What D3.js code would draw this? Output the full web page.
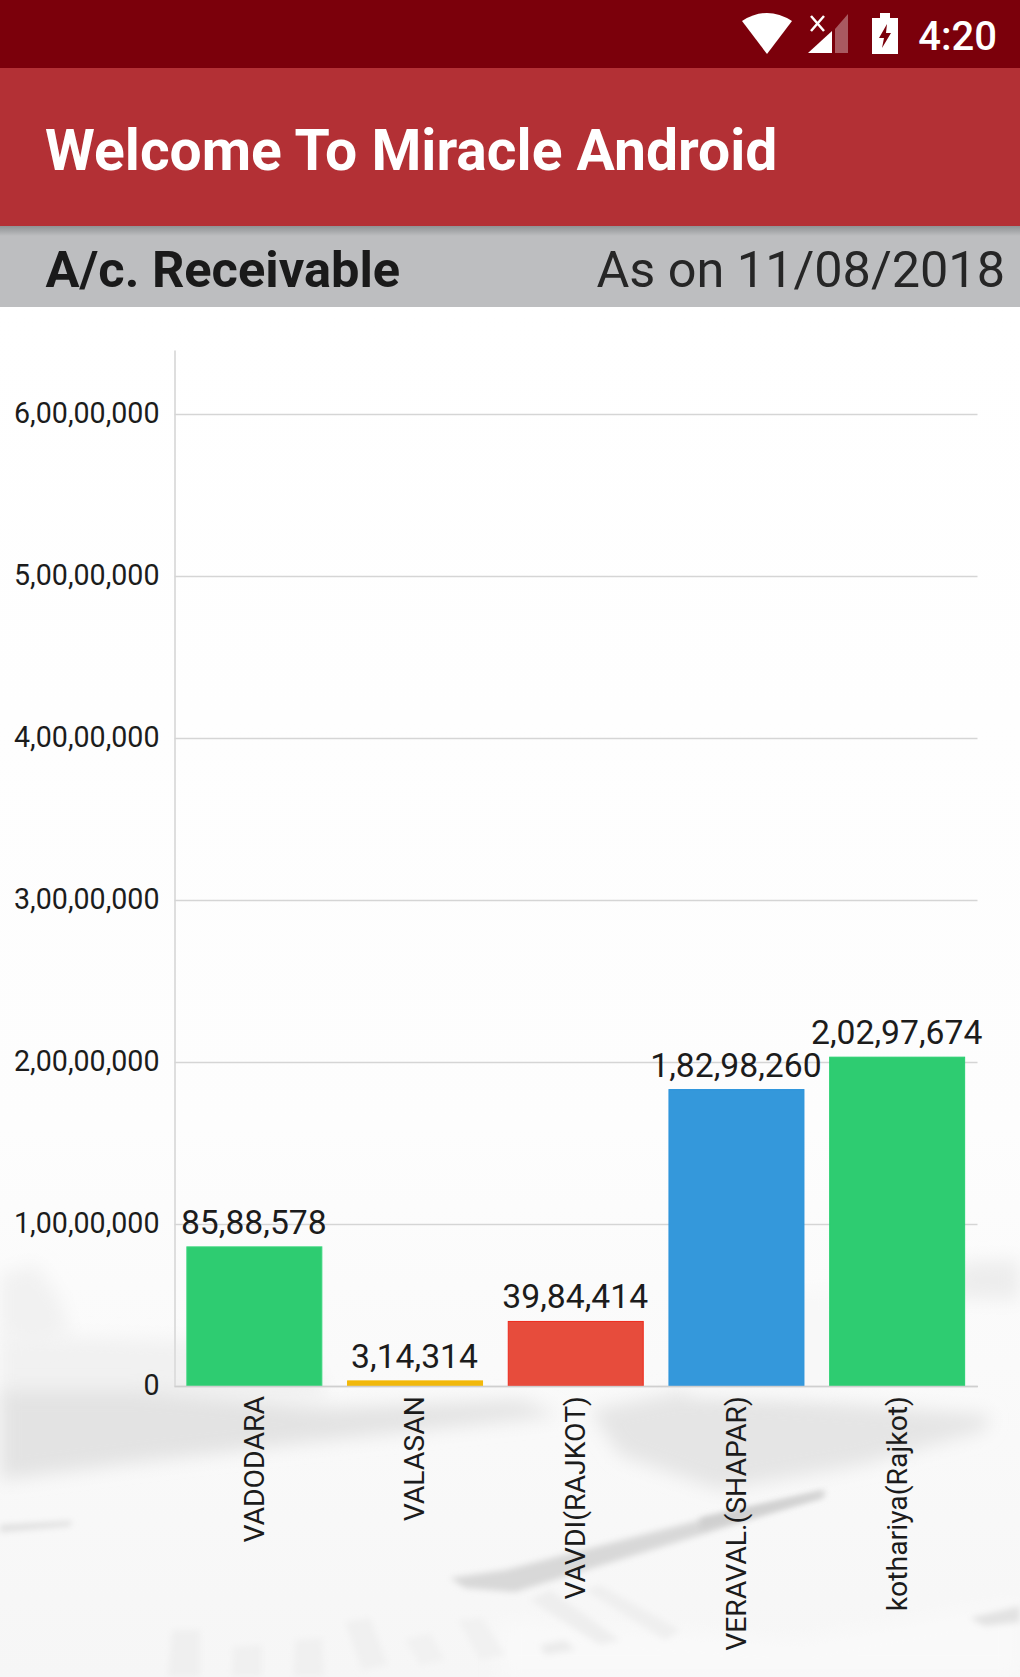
<!DOCTYPE html>
<html>
<head>
<meta charset="utf-8">
<title>A/c. Receivable</title>
<script src="https://cdn.jsdelivr.net/npm/d3@7"></script>
<style>
  html, body { margin: 0; padding: 0; background: #fff; }
  svg { display: block; font-family: Roboto, sans-serif; }
</style>
</head>
<body>
<svg id="chart" width="1020" height="1677"></svg>
<script>
// chart values
const categories = ["VADODARA", "VALASAN", "VAVDI(RAJKOT)", "VERAVAL.(SHAPAR)", "kothariya(Rajkot)"];
const receivable = [8588578, 314314, 3984414, 18298260, 20297674];
const barColors = ["#2ecc71", "#f1b80c", "#e74c3c", "#3498db", "#2ecc71"];
const barEdges = ["#3ad67d", "#f4b800", "#ee2a1c", "#2a93dc", "#28d070"];
const yTicks = [0, 10000000, 20000000, 30000000, 40000000, 50000000, 60000000];
const yMax = 63950000;

const appTitle = "Welcome To Miracle Android";
const reportName = "A/c. Receivable";
const reportDate = "As on 11/08/2018";
const clock = "4:20";

const svg = d3.select("#chart");

// indian digit grouping, 1,00,00,000
const indian = d3.formatLocale({
    decimal: ".",
    thousands: ",",
    grouping: [3, 2, 2, 2, 2],
    currency: ["", ""]
}).format(",d");

const defs = svg.append("defs");
defs.append("filter").attr("id", "soft").attr("x", "-20%").attr("y", "-50%").attr("width", "140%").attr("height", "200%")
    .append("feGaussianBlur").attr("stdDeviation", 9);
defs.append("filter").attr("id", "softer").attr("x", "-20%").attr("y", "-50%").attr("width", "140%").attr("height", "200%")
    .append("feGaussianBlur").attr("stdDeviation", 3);
const pageGrad = defs.append("linearGradient").attr("id", "page").attr("x1", 0).attr("x2", 0).attr("y1", 0).attr("y2", 1);
pageGrad.append("stop").attr("offset", "0%").attr("stop-color", "#ffffff");
pageGrad.append("stop").attr("offset", "60%").attr("stop-color", "#fdfdfd");
pageGrad.append("stop").attr("offset", "100%").attr("stop-color", "#f6f6f6");
const shadowGrad = defs.append("linearGradient").attr("id", "shade").attr("x1", 0).attr("x2", 0).attr("y1", 0).attr("y2", 1);
shadowGrad.append("stop").attr("offset", "0%").attr("stop-color", "#8f9294");
shadowGrad.append("stop").attr("offset", "100%").attr("stop-color", "#bdbec0");

// page background with the faded desk photo
svg.append("rect").attr("y", 306).attr("width", 1020).attr("height", 1371).attr("fill", "url(#page)");

const photo = svg.append("g");
const blurred = [
    ["0,1335 300,1345 330,1400 0,1400", "#f1f1f1"],
    ["0,1275 35,1265 60,1300 70,1335 30,1345 0,1335", "#f1f1f1"],
    ["0,1390 140,1390 330,1408 520,1400 560,1415 330,1440 140,1462 0,1480", "#e3e3e3"],
    ["590,1410 680,1392 800,1400 990,1415 985,1430 860,1465 720,1490 620,1455", "#e5e5e5"],
    ["960,1262 1020,1260 1020,1300 950,1298", "#ededed"],
    ["690,1300 840,1290 840,1390 690,1395", "#f8f8f8"],
    ["500,1620 800,1640 1020,1600 1020,1677 500,1677", "#f9f9f9"]
];
const crisp = [
    ["0,1525 72,1521 70,1526 0,1532", "#dedede"],
    ["450,1578 505,1570 700,1520 825,1490 825,1496 700,1535 515,1592 465,1588", "#d8d8d8"],
    ["700,1518 822,1492 822,1497 700,1530", "#cfcfcf"],
    ["970,1618 1020,1606 1020,1622 985,1626", "#e2e2e2"],
    ["172,1630 200,1630 200,1677 168,1677", "#efefef"],
    ["233,1647 262,1645 262,1677 232,1677", "#f0f0f0"],
    ["295,1640 322,1638 324,1677 293,1677", "#f0f0f0"],
    ["345,1622 370,1618 388,1665 362,1670", "#f0f0f0"],
    ["405,1640 430,1633 445,1660 420,1665", "#f1f1f1"],
    ["458,1620 482,1618 505,1655 480,1660", "#f1f1f1"],
    ["530,1600 550,1590 620,1640 600,1645", "#eeeeee"],
    ["585,1590 600,1585 680,1630 665,1640", "#efefef"],
    ["540,1645 565,1640 575,1650 545,1655", "#ebebeb"]
];
photo.selectAll(".soft").data(blurred).join("polygon").attr("class", "soft")
    .attr("points", d => d[0]).attr("fill", d => d[1]).attr("filter", "url(#soft)");
photo.selectAll(".crisp").data(crisp).join("polygon").attr("class", "crisp")
    .attr("points", d => d[0]).attr("fill", d => d[1]).attr("filter", "url(#softer)");

// scales
const x = d3.scaleBand().domain(categories).range([174, 977.5]).paddingInner(0.16).paddingOuter(0.08);
const y = d3.scaleLinear().domain([0, yMax]).range([1386, 350]);

// grid lines + y labels
const yAxis = svg.append("g")
    .attr("transform", "translate(174.5,0)")
    .call(d3.axisLeft(y).tickValues(yTicks).tickSize(-803).tickSizeOuter(0).tickPadding(15).tickFormat(indian));
yAxis.select(".domain").attr("stroke", "#dedede").attr("stroke-width", 2);
yAxis.selectAll(".tick line").attr("stroke", "#d5d5d5").attr("stroke-width", 1.6);
yAxis.selectAll(".tick text")
    .attr("font-family", "Roboto, sans-serif")
    .attr("font-size", 28.6)
    .attr("fill", "#1c1c1c")
    .attr("dy", "0.3em");

// bars
svg.append("g").selectAll("rect")
    .data(categories)
    .join("rect")
    .attr("x", d => x(d))
    .attr("y", (d, i) => y(receivable[i]))
    .attr("width", x.bandwidth())
    .attr("height", (d, i) => y(0) - y(receivable[i]))
    .attr("fill", (d, i) => barColors[i])
    .attr("stroke", (d, i) => barEdges[i])
    .attr("stroke-width", 1);

// x axis, labels run bottom to top
const xAxis = svg.append("g")
    .attr("transform", "translate(0," + y(0) + ")")
    .call(d3.axisBottom(x).tickSize(0));
xAxis.select(".domain").attr("stroke", "#cfcfcf").attr("stroke-width", 1.6);
xAxis.selectAll(".tick text")
    .attr("font-family", "Roboto, sans-serif")
    .attr("font-size", 28.4)
    .attr("fill", "#1c1c1c")
    .attr("text-anchor", "end")
    .attr("transform", "rotate(-90)")
    .attr("x", -10)
    .attr("y", -0.8)
    .attr("dy", "0.36em");

// value labels
svg.append("g").selectAll("text")
    .data(categories)
    .join("text")
    .attr("x", d => x(d) + x.bandwidth() / 2 - 0.5)
    .attr("y", (d, i) => y(receivable[i]) - 13)
    .attr("text-anchor", "middle")
    .attr("font-size", 33.7)
    .attr("fill", "#1c1c1c")
    .text((d, i) => indian(receivable[i]));

// android chrome
svg.append("rect").attr("width", 1020).attr("height", 69).attr("fill", "#7b000b");
svg.append("rect").attr("y", 68).attr("width", 1020).attr("height", 158).attr("fill", "#b33035");
svg.append("rect").attr("y", 226).attr("width", 1020).attr("height", 81).attr("fill", "#bdbec0");
svg.append("rect").attr("y", 226).attr("width", 1020).attr("height", 10).attr("fill", "url(#shade)");

svg.append("text").attr("x", 45).attr("y", 170)
    .attr("font-size", 57).attr("font-weight", 700).attr("fill", "#fff").text(appTitle);
svg.append("text").attr("x", 45.5).attr("y", 287)
    .attr("font-size", 50.6).attr("font-weight", 700).attr("fill", "#1a1a1a").text(reportName);
svg.append("text").attr("x", 1005).attr("y", 287).attr("text-anchor", "end")
    .attr("font-size", 50.4).attr("fill", "#262626").text(reportDate);

// status bar icons
const status = svg.append("g").attr("fill", "#fff");
status.append("path").attr("d", "M742,21 Q767,5 792,21 L767,54 Z");
status.append("path").attr("d", "M808,53 L832,31 L832,53 Z");
status.append("path").attr("d", "M835,29 L848,14 L848,53 L835,53 Z").attr("fill-opacity", 0.35);
status.append("path").attr("d", "M811,16 L824,31 M824,16 L811,31").attr("stroke", "#fff").attr("stroke-width", 2.5).attr("fill", "none");
status.append("path").attr("d", "M872,18 L880,18 L880,13 L890,13 L890,18 L898,18 L898,54 L872,54 Z");
status.append("path").attr("d", "M887,24 L879,38 L884,38 L882,48 L891,33 L886,33 Z").attr("fill", "#7b000b");
status.append("text").attr("x", 997).attr("y", 50).attr("text-anchor", "end")
    .attr("font-size", 40).attr("font-weight", 500).text(clock);
</script>
</body>
</html>
